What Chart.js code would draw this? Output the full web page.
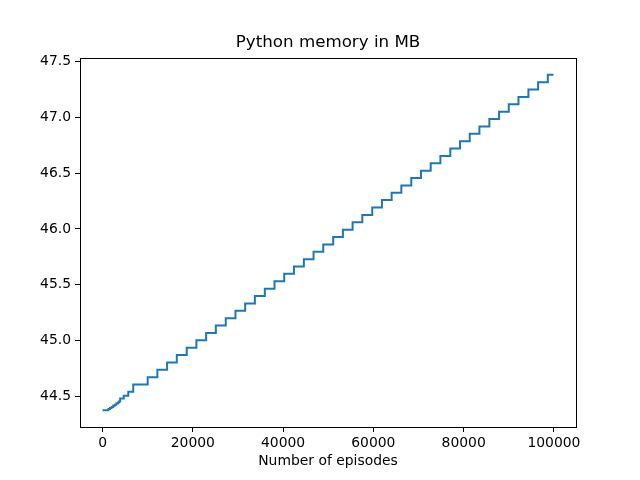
<!DOCTYPE html>
<html>
<head>
<meta charset="utf-8">
<title>Python memory in MB</title>
<script src="https://cdn.jsdelivr.net/npm/chart.js@4/dist/chart.umd.min.js"></script>
<style>
  html, body { margin: 0; padding: 0; background: #fff; }
  canvas { display: block; }
</style>
</head>
<body>
<canvas id="memChart" width="640" height="480"></canvas>
<script>
// episodes where the memory reading changes, and the new value (MB) from that point on
var episodes = [0, 1000, 1300, 1650, 2000, 2350, 2700, 3050, 3400, 3700, 3900, 4700, 5700, 6800,
    10000, 12150, 14300, 16450, 18650, 20800, 22950, 25100, 27300, 29450,
    31600, 33750, 35950, 38100, 40250, 42400, 44600, 46750, 48900, 51100,
    53250, 55400, 57550, 59750, 61900, 64050, 66200, 68400, 70550, 72700,
    74850, 77050, 79200, 81350, 83500, 85700, 87850, 90000, 92150, 94350,
    96500, 98650, 99900];
var memoryMB = [44.375, 44.375, 44.385, 44.395, 44.405, 44.415, 44.425, 44.435, 44.445, 44.455, 44.48, 44.505, 44.54, 44.605,
    44.671, 44.737, 44.803, 44.869, 44.936, 45.002, 45.068, 45.134, 45.200, 45.266,
    45.332, 45.398, 45.464, 45.530, 45.597, 45.663, 45.729, 45.795, 45.861, 45.927,
    45.993, 46.059, 46.125, 46.191, 46.258, 46.324, 46.390, 46.456, 46.522, 46.588,
    46.654, 46.720, 46.786, 46.852, 46.918, 46.985, 47.051, 47.117, 47.183, 47.249,
    47.315, 47.381, 47.381];

var xTicks = [0, 20000, 40000, 60000, 80000, 100000];
var yTicks = [44.5, 45.0, 45.5, 46.0, 46.5, 47.0, 47.5];

var chartTitle = 'Python memory in MB';
var xTitle = 'Number of episodes';

var fontFamily = '"DejaVu Sans", sans-serif';

// matplotlib draws all four spines; chart.js only the axis ones
var framePlugin = {
    id: 'frame',
    afterDraw: function(chart) {
        var a = chart.chartArea;
        var ctx = chart.ctx;
        ctx.save();
        ctx.strokeStyle = '#000';
        ctx.lineWidth = 1;
        ctx.strokeRect(Math.round(a.left) + 0.5, Math.round(a.top) + 0.5,
            Math.round(a.right - a.left), Math.round(a.bottom - a.top));
        ctx.restore();
    }
};

var points = episodes.map(function(ep, i) {
    return { x: ep, y: memoryMB[i] };
});

new Chart(document.getElementById('memChart'), {
    type: 'line',
    data: {
        datasets: [{
            label: 'memory',
            data: points,
            borderColor: '#1f77b4',
            borderWidth: 2,
            pointRadius: 0,
            stepped: true,
            fill: false
        }]
    },
    options: {
        responsive: false,
        animation: false,
        devicePixelRatio: 1,
        layout: {
            padding: { left: 0, right: 64, top: 0, bottom: 0 }
        },
        plugins: {
            legend: { display: false },
            tooltip: { enabled: false },
            title: {
                display: true,
                text: chartTitle,
                fullSize: false,
                color: '#000',
                font: { family: fontFamily, size: 16.7, weight: 'normal', lineHeight: 1.2 },
                padding: { top: 33, bottom: 5 }
            }
        },
        scales: {
            x: {
                type: 'linear',
                min: -4995,
                max: 104895,
                afterFit: function(scale) { scale.height = 53; },
                afterBuildTicks: function(scale) {
                    scale.ticks = xTicks.map(function(v) { return { value: v }; });
                },
                ticks: {
                    color: '#000',
                    padding: 3,
                    maxRotation: 0,
                    font: { family: fontFamily, size: 13.9 },
                    callback: function(v) { return String(v); }
                },
                grid: {
                    drawOnChartArea: false,
                    drawTicks: true,
                    tickLength: 5,
                    tickColor: '#000',
                    tickWidth: 1
                },
                border: { display: true, color: '#000', width: 1 },
                title: {
                    display: true,
                    text: xTitle,
                    color: '#000',
                    font: { family: fontFamily, size: 13.9 },
                    padding: { top: 0, bottom: 10 }
                }
            },
            y: {
                type: 'linear',
                min: 44.2247,
                max: 47.5313,
                afterFit: function(scale) { scale.width = 80; },
                afterBuildTicks: function(scale) {
                    scale.ticks = yTicks.map(function(v) { return { value: v }; });
                },
                ticks: {
                    color: '#000',
                    padding: 4,
                    font: { family: fontFamily, size: 13.9 },
                    callback: function(v) { return v.toFixed(1); }
                },
                grid: {
                    drawOnChartArea: false,
                    drawTicks: true,
                    tickLength: 5,
                    tickColor: '#000',
                    tickWidth: 1
                },
                border: { display: true, color: '#000', width: 1 }
            }
        }
    },
    plugins: [framePlugin]
});
</script>
</body>
</html>
